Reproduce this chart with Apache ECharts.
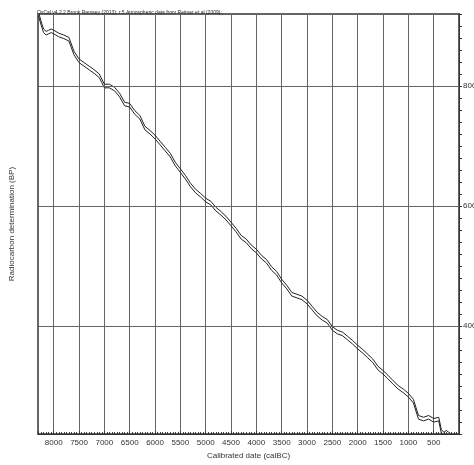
<!DOCTYPE html><html><head><meta charset="utf-8"><script src="https://cdn.jsdelivr.net/npm/echarts@6/dist/echarts.min.js"></script>
<style>body{margin:0}#c{width:474px;height:465px}</style></head><body><div id="c"></div><script>
const calBC=[8300,8250,8200,8150,8100,8050,8000,7900,7800,7700,7600,7500,7400,7300,7200,7100,7000,6900,6800,6700,6600,6500,6400,6300,6200,6100,6000,5900,5800,5700,5600,5500,5400,5300,5200,5100,5000,4900,4800,4700,4600,4500,4400,4300,4200,4100,4000,3900,3800,3700,3600,3500,3400,3300,3200,3100,3000,2900,2800,2700,2600,2500,2400,2300,2200,2100,2000,1900,1800,1700,1600,1500,1400,1300,1200,1100,1000,900,800,700,600,500,400,350,300,250,200];
const bp=[9200,9050,8920,8880,8900,8920,8900,8850,8820,8780,8550,8420,8360,8300,8240,8170,8000,8000,7950,7850,7700,7680,7560,7480,7300,7230,7150,7050,6950,6850,6700,6590,6480,6350,6250,6180,6100,6050,5950,5880,5800,5700,5600,5480,5420,5320,5250,5150,5080,4960,4880,4750,4650,4530,4500,4470,4400,4300,4200,4130,4080,3960,3900,3870,3800,3730,3650,3580,3500,3420,3300,3230,3150,3060,2980,2920,2850,2750,2480,2450,2480,2430,2450,2250,2200,2230,2200];
const sigma=[30,30,30,30,30,30,30,30,30,30,30,30,30,30,30,30,30,30,30,30,30,30,30,30,30,30,30,30,30,30,30,30,30,30,30,30,30,30,30,30,30,30,30,30,30,30,30,30,30,30,30,30,30,30,30,30,30,30,30,30,30,30,30,30,30,30,30,30,30,30,30,30,30,30,30,30,30,30,30,30,30,30,30,30,30,30,30];
const yTicks=[4000,6000,8000];
const title='OxCal v4.2.2 Bronk Ramsey (2013); r:5 Atmospheric data from Reimer et al (2009);';
const hi=calBC.map((x,i)=>[x,bp[i]+sigma[i]]), lo=calBC.map((x,i)=>[x,bp[i]-sigma[i]]);
const c=echarts.init(document.getElementById('c'));
const ax={color:'#333',fontSize:8,fontFamily:'Liberation Sans'};
c.setOption({animation:false,
title:{text:title,left:32,top:5,textStyle:{fontSize:5,fontWeight:'normal',color:'#222'}},
grid:{left:32,right:15,top:14,bottom:23,show:true,borderColor:'#333',borderWidth:1.5},
xAxis:{type:'value',inverse:true,min:0,max:8310,interval:500,name:'Calibrated date (calBC)',nameLocation:'middle',nameGap:16,nameTextStyle:ax,
 axisLabel:Object.assign({margin:5,formatter:v=>v>0?String(v):''},ax),axisLine:{lineStyle:{color:'#333'}},axisTick:{show:true,inside:true,length:3},minorTick:{show:true,splitNumber:10,length:2},
 splitLine:{lineStyle:{color:'#666',width:1}}},
yAxis:{type:'value',min:2200,max:9200,interval:200,name:'Radiocarbon determination (BP)',nameLocation:'middle',nameGap:22,nameTextStyle:ax,
 axisLabel:{show:false},axisLine:{lineStyle:{color:'#333'}},axisTick:{show:true,inside:true,length:3},
 splitLine:{show:false}},
series:[{type:'line',data:hi,symbol:'none',lineStyle:{color:'#222',width:1},
  markLine:{silent:true,symbol:'none',lineStyle:{color:'#666',width:1,type:'solid'},
   label:{position:'start',distance:4,color:'#333',fontSize:8,fontFamily:'Liberation Sans',formatter:p=>String(p.value)},
   data:yTicks.map(v=>({yAxis:v}))}},
 {type:'line',data:lo,symbol:'none',lineStyle:{color:'#222',width:1}}]});
</script></body></html>
